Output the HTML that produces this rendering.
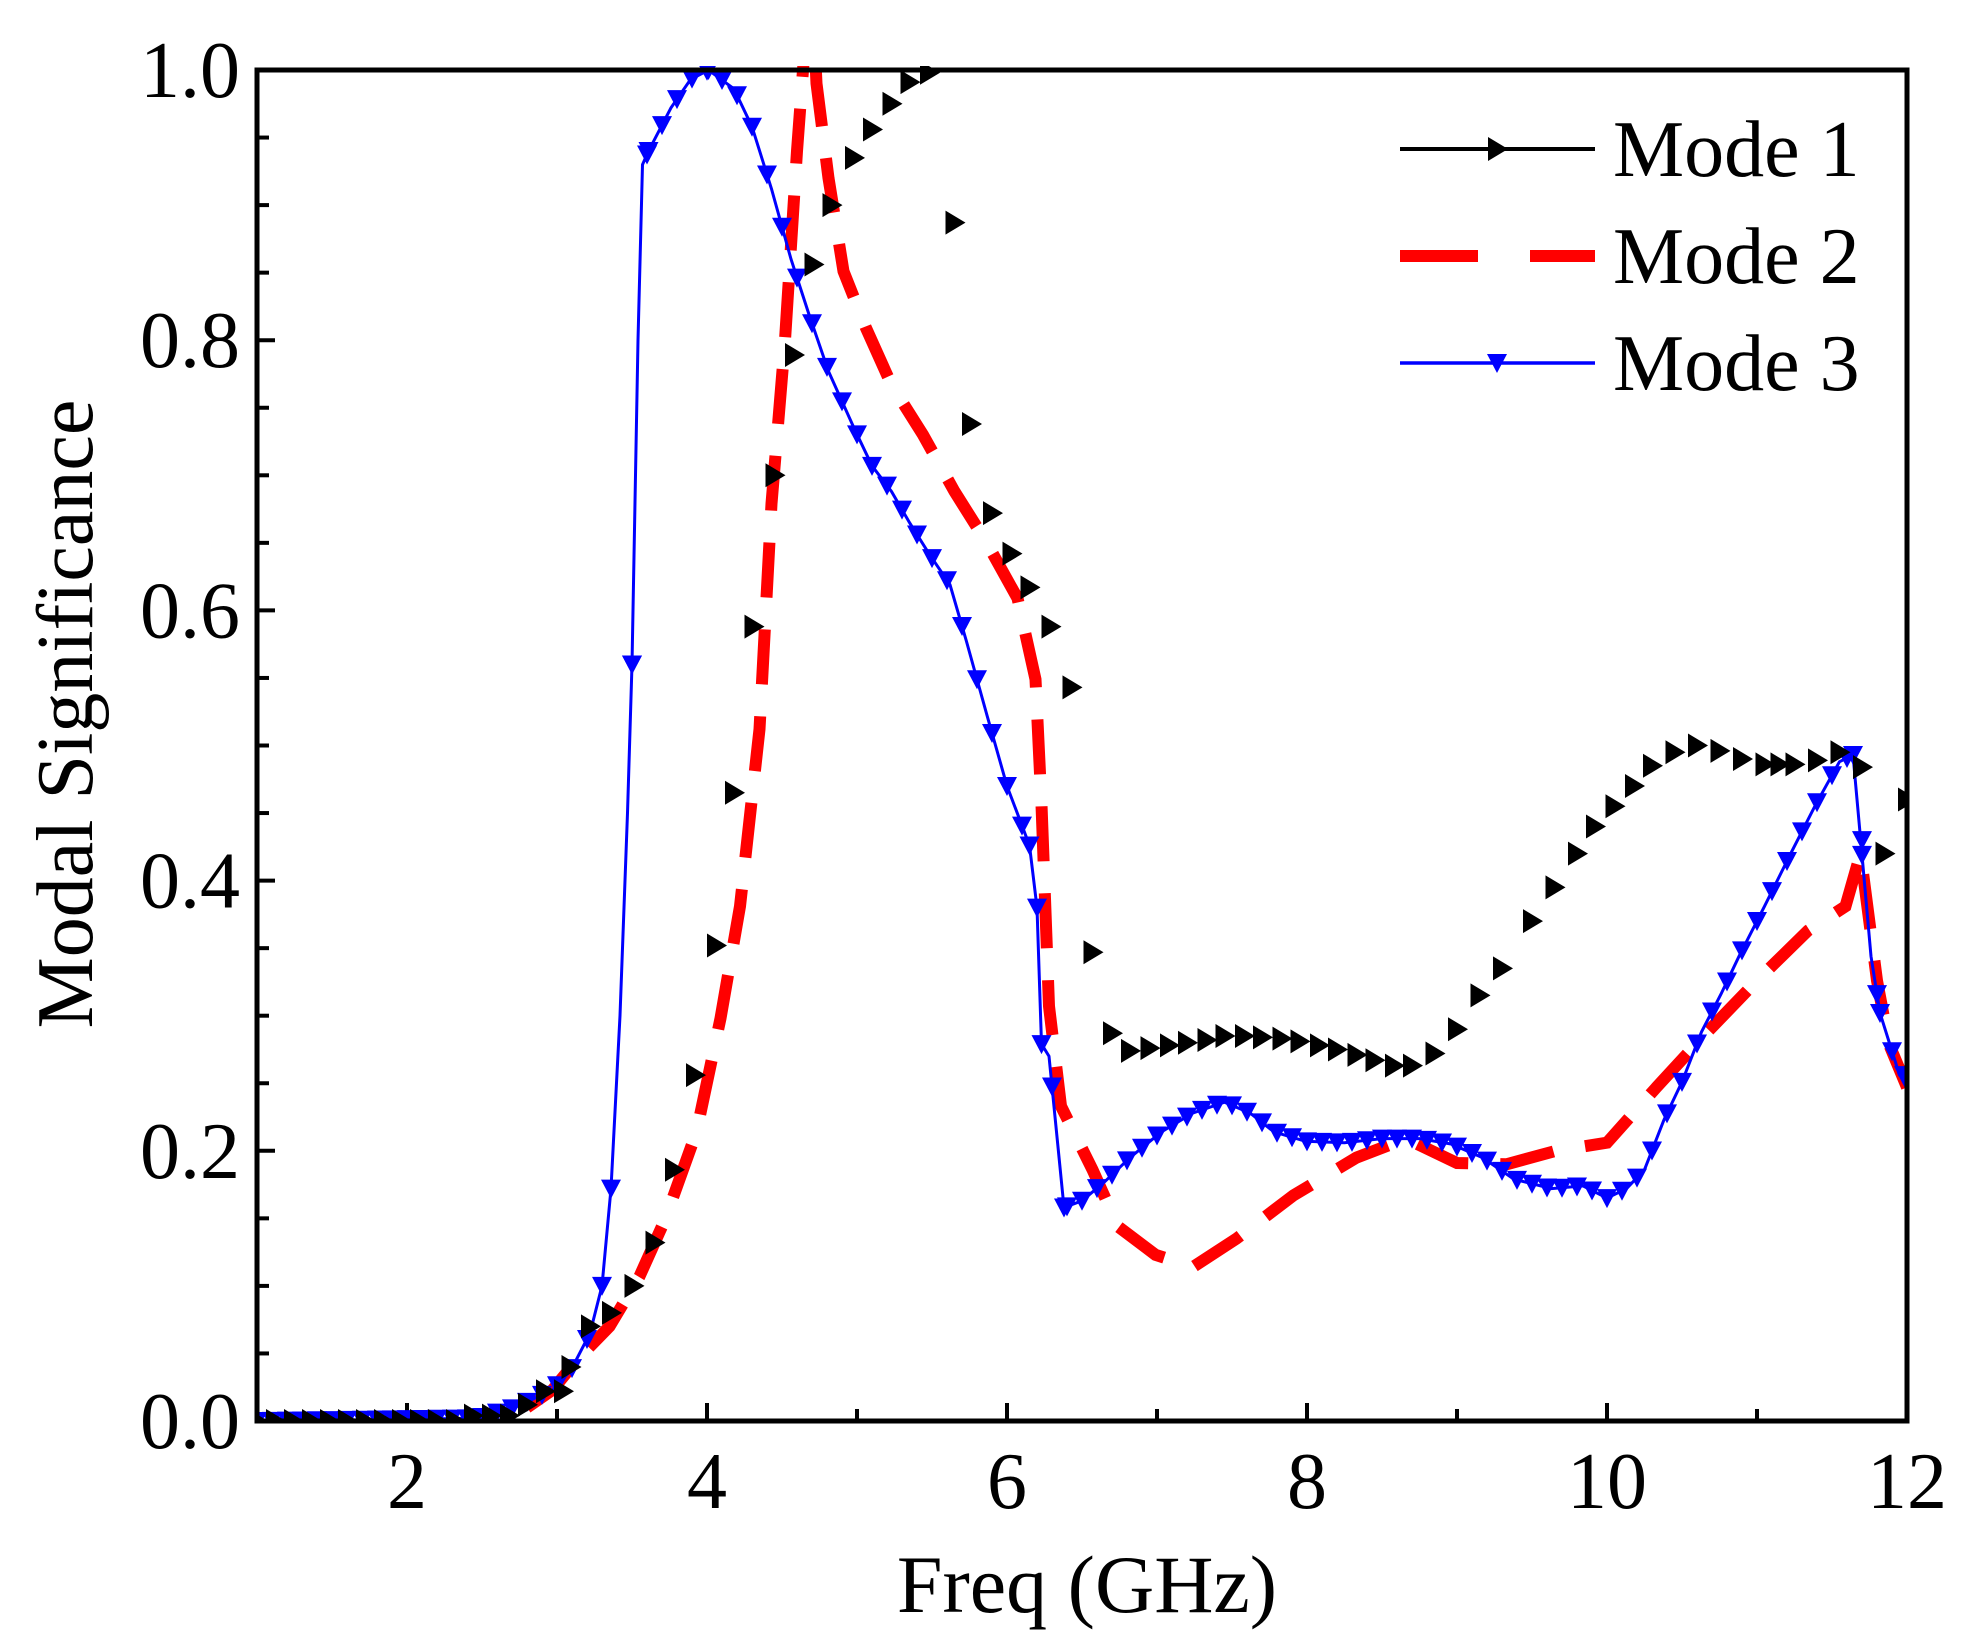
<!DOCTYPE html>
<html><head><style>html,body{margin:0;padding:0;background:#fff}svg{display:block}</style></head>
<body>
<svg id="s" width="1971" height="1645" xmlns="http://www.w3.org/2000/svg" font-family="Liberation Serif, serif">
<defs><clipPath id="c"><rect x="257" y="66" width="1652" height="1357"/></clipPath></defs>
<g id="ticks" stroke="#000" stroke-width="4"></g>
<g id="plot" clip-path="url(#c)"></g>
<rect x="257" y="70" width="1650" height="1351" fill="none" stroke="#000" stroke-width="5"/>
<g id="lbl" font-size="80" fill="#000"></g>
<text x="1087" y="1612" font-size="82" text-anchor="middle">Freq (GHz)</text>
<text transform="translate(92,714) rotate(-90)" font-size="80" text-anchor="middle">Modal Significance</text>
<g id="leg"></g>
</svg>
<script>
const NS="http://www.w3.org/2000/svg";
const X=f=>257+(f-1)*150, Y=v=>1421-v*1351;
function el(p,t,a,txt){const e=document.createElementNS(NS,t);for(const k in a)e.setAttribute(k,a[k]);if(txt!=null)e.textContent=txt;p.appendChild(e);return e;}
const T=document.getElementById('ticks'),L=document.getElementById('lbl'),P=document.getElementById('plot'),G=document.getElementById('leg');
for(let i=0;i<=20;i++){const v=i*0.05,y=Y(v);const len=(i%4==0)?18:12;el(T,'line',{x1:257,y1:y,x2:257+len,y2:y});}
for(let i=0;i<=5;i++){el(L,'text',{x:240,y:Y(i*0.2)+27,'text-anchor':'end'},(i*0.2).toFixed(1));}
for(let f=1;f<=12;f++){const len=(f%2==0)?18:12;el(T,'line',{x1:X(f),y1:1421,x2:X(f),y2:1421-len});}
for(let f=2;f<=12;f+=2){el(L,'text',{x:X(f),y:1508,'text-anchor':'middle'},String(f));}
const blue=[[1,0],[2.47,0.002],[2.72,0.01],[2.97,0.023],[3.09,0.037],[3.22,0.065],[3.3,0.1],[3.36,0.172],[3.42,0.3],[3.47,0.45],[3.5,0.56],[3.54,0.8],[3.57,0.93],[3.61,0.94],[3.76,0.972],[3.89,0.993],[4.01,1.0],[4.18,0.986],[4.3,0.958],[4.43,0.912],[4.56,0.86],[4.68,0.819],[4.81,0.777],[4.98,0.735],[5.1,0.707],[5.23,0.688],[5.35,0.665],[5.48,0.642],[5.62,0.619],[5.73,0.577],[5.87,0.521],[6.0,0.47],[6.15,0.426],[6.2,0.38],[6.23,0.279],[6.28,0.27],[6.38,0.158],[6.5,0.163],[6.65,0.177],[6.82,0.195],[7.03,0.214],[7.24,0.228],[7.45,0.236],[7.62,0.228],[7.78,0.214],[7.99,0.207],[8.25,0.206],[8.5,0.209],[8.75,0.209],[8.96,0.205],[9.17,0.195],[9.38,0.179],[9.63,0.172],[9.84,0.174],[10.0,0.165],[10.13,0.172],[10.25,0.186],[10.38,0.223],[10.5,0.251],[10.63,0.288],[10.76,0.316],[10.88,0.344],[11.05,0.381],[11.22,0.419],[11.39,0.456],[11.55,0.488],[11.64,0.493],[11.7,0.419],[11.76,0.344],[11.82,0.302],[11.95,0.256],[12,0.251]];
const red=[[2.8,0.01],[2.97,0.023],[3.14,0.046],[3.35,0.07],[3.55,0.107],[3.72,0.149],[3.93,0.214],[4.09,0.298],[4.22,0.381],[4.35,0.512],[4.43,0.679],[4.52,0.8],[4.6,0.94],[4.66,1.03],[4.68,1.06],[4.7,1.06],[4.73,0.99],[4.81,0.92],[4.91,0.851],[5.06,0.809],[5.23,0.767],[5.44,0.73],[5.65,0.688],[5.86,0.651],[6.07,0.609],[6.19,0.549],[6.23,0.456],[6.28,0.307],[6.36,0.233],[6.57,0.186],[6.74,0.144],[6.99,0.123],[7.24,0.114],[7.53,0.135],[7.91,0.167],[8.33,0.195],[8.66,0.209],[9.0,0.191],[9.33,0.19],[9.66,0.2],[10.0,0.206],[10.33,0.247],[10.67,0.288],[11.0,0.326],[11.34,0.363],[11.59,0.381],[11.69,0.42],[11.8,0.326],[11.88,0.279],[12,0.247]];
const blk=[[3.09,0.04],[3.22,0.07],[3.36,0.08],[3.51,0.1],[3.65,0.132],[3.78,0.186],[3.92,0.256],[4.06,0.352],[4.18,0.465],[4.31,0.588],[4.45,0.7],[4.58,0.789],[4.71,0.856],[4.83,0.9],[4.98,0.935],[5.1,0.956],[5.23,0.975],[5.35,0.991],[5.48,0.998],[5.65,0.887],[5.76,0.738],[5.9,0.672],[6.03,0.642],[6.15,0.617],[6.29,0.588],[6.43,0.543],[6.57,0.347],[6.7,0.287],[6.82,0.274],[6.95,0.276],[7.08,0.278],[7.2,0.28],[7.33,0.282],[7.45,0.285],[7.58,0.285],[7.7,0.284],[7.83,0.283],[7.95,0.281],[8.08,0.278],[8.2,0.275],[8.33,0.271],[8.45,0.267],[8.58,0.263],[8.7,0.263],[8.85,0.272],[9.0,0.29],[9.15,0.315],[9.3,0.335],[9.5,0.37],[9.65,0.395],[9.8,0.42],[9.92,0.44],[10.05,0.455],[10.18,0.47],[10.3,0.485],[10.45,0.495],[10.6,0.5],[10.75,0.496],[10.9,0.49],[11.05,0.486],[11.15,0.486],[11.25,0.486],[11.4,0.489],[11.55,0.495],[11.7,0.484],[11.85,0.42],[12,0.46]];
for(let f=1;f<3.05;f+=0.12){const v=f<2.4?0:(f<2.7?0.004:(f<2.85?0.012:0.022));blk.unshift([f,v]);}
const pts=a=>a.map(p=>X(p[0]).toFixed(1)+','+Y(p[1]).toFixed(1)).join(' ');
el(P,'polyline',{points:pts(red),fill:'none',stroke:'#ff0000','stroke-width':12,'stroke-dasharray':'55 32'});
el(P,'polyline',{points:pts(blue),fill:'none',stroke:'#0000ff','stroke-width':3});
function interp(a,f){for(let i=0;i<a.length-1;i++){if(f>=a[i][0]&&f<=a[i+1][0]){const t=(f-a[i][0])/(a[i+1][0]-a[i][0]);return a[i][1]+t*(a[i+1][1]-a[i][1]);}}return a[a.length-1][1];}
const tri=(x,y)=>`${x-10},${y-9} ${x+10},${y-9} ${x},${y+10}`;
const rt=(x,y)=>`${x-9},${y-12} ${x+11},${y} ${x-9},${y+12}`;
for(let f=1;f<=12.001;f+=0.1){if(f>3.38&&f<3.48)continue;const b=interp(blue,f);el(P,'polygon',{points:tri(X(f),Y(b)),fill:'#0000ff'});}
[[3.36,0.172],[3.5,0.56],[3.61,0.94],[4.01,1.0],[11.64,0.493],[11.7,0.43],[11.82,0.302],[11.98,0.256],[6.38,0.158],[6.23,0.279],[6.15,0.426]].forEach(p=>el(P,'polygon',{points:tri(X(p[0]),Y(p[1])),fill:'#0000ff'}));
blk.forEach(p=>el(P,'polygon',{points:rt(X(p[0]),Y(p[1])),fill:'#000'}));
const ly=[149,256,363],lx1=1400,lx2=1595;
el(G,'line',{x1:lx1,y1:ly[0],x2:lx2,y2:ly[0],stroke:'#000','stroke-width':4});
el(G,'polygon',{points:rt(1497,ly[0]),fill:'#000'});
el(G,'line',{x1:lx1,y1:ly[1],x2:lx2,y2:ly[1],stroke:'#ff0000','stroke-width':12,'stroke-dasharray':'78 52'});
el(G,'line',{x1:lx1,y1:ly[2],x2:lx2,y2:ly[2],stroke:'#0000ff','stroke-width':3.5});
el(G,'polygon',{points:tri(1497,ly[2]),fill:'#0000ff'});
['Mode 1','Mode 2','Mode 3'].forEach((t,i)=>el(G,'text',{x:1613,y:ly[i]+27,'font-size':80},t));
</script>
</body></html>
